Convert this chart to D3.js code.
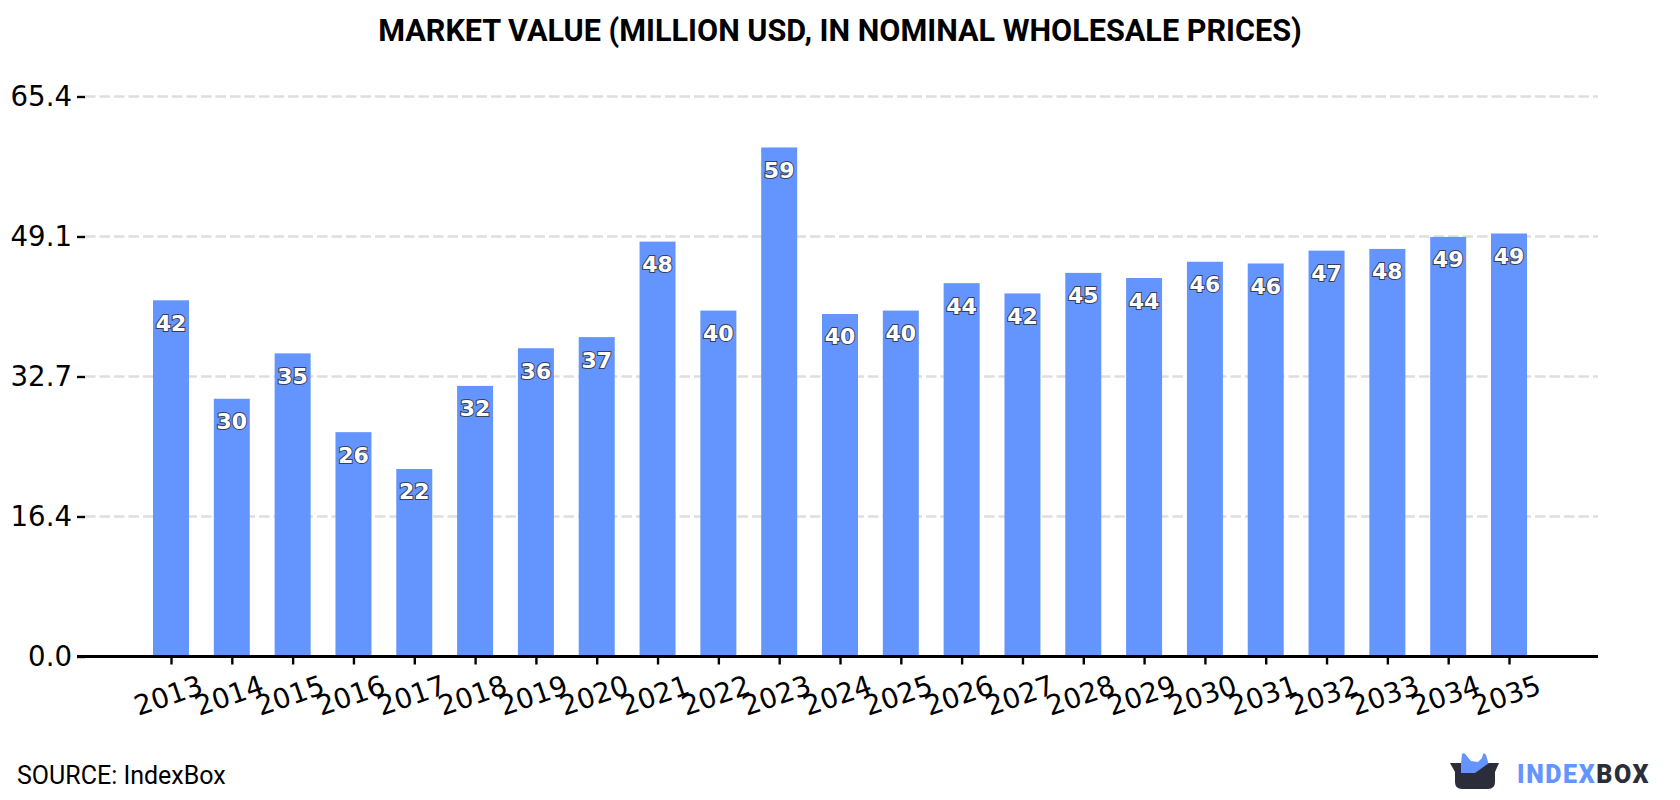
<!DOCTYPE html>
<html>
<head>
<meta charset="utf-8">
<script src="https://cdnjs.cloudflare.com/ajax/libs/d3/7.8.5/d3.min.js"></script>
<style>
html,body{margin:0;padding:0;background:#fff;}
svg{display:block;}
</style>
</head>
<body>
<svg id="chart" width="1680" height="800"></svg>
<script>
const years = ["2013","2014","2015","2016","2017","2018","2019","2020","2021","2022","2023","2024","2025","2026","2027","2028","2029","2030","2031","2032","2033","2034","2035"];
const marketValue = [41.6,30.1,35.4,26.2,21.9,31.6,36.0,37.3,48.45,40.4,59.45,40.0,40.4,43.6,42.4,44.8,44.2,46.1,45.9,47.4,47.6,49.0,49.4];
const yTicks = [0,16.35,32.7,49.05,65.4];
const yTickLabels = ["0.0","16.4","32.7","49.1","65.4"];
const titleText = "MARKET VALUE (MILLION USD, IN NOMINAL WHOLESALE PRICES)";
const sourceText = "SOURCE: IndexBox";

const svg = d3.select("#chart");
const axisLeft = 85, axisRight = 1598, axisBase = 656.5, axisTop = 96.5;
const firstCenter = 171, lastCenter = 1509;

const y = d3.scaleLinear().domain([0,65.4]).range([axisBase,axisTop]);
const x = d3.scalePoint().domain(years).range([firstCenter,lastCenter]);
const barWidth = 36;

svg.append("text").attr("x",840).attr("y",41).attr("text-anchor","middle")
  .attr("font-family","Roboto").attr("font-weight",700).attr("font-size",30.6)
  .attr("fill","#000").text(titleText);

// Horizontal dashed grid lines above the baseline
svg.append("g").selectAll("line").data(yTicks.slice(1)).join("line")
  .attr("x1",axisLeft).attr("x2",axisRight)
  .attr("y1",d=>y(d)).attr("y2",d=>y(d))
  .attr("stroke","#dedede").attr("stroke-width",2.4).attr("stroke-dasharray","10.5,4");

// Bars
svg.append("g").selectAll("rect").data(marketValue).join("rect")
  .attr("x",(d,i)=>x(years[i])-barWidth/2)
  .attr("width",barWidth)
  .attr("y",d=>y(d))
  .attr("height",d=>axisBase-y(d))
  .attr("fill","#6495ff");

// Y axis: only tick marks and labels, the domain is hidden
const gy = svg.append("g").attr("transform",`translate(${axisLeft},0)`)
  .call(d3.axisLeft(y).tickValues(yTicks).tickSize(8).tickPadding(5)
    .tickFormat((d,i)=>yTickLabels[i]));
gy.select(".domain").remove();
gy.selectAll("line").attr("stroke","#000").attr("stroke-width",2.4);
gy.selectAll("text").attr("font-family","'DejaVu Sans'").attr("font-size",27.6).attr("fill","#000");

// X axis with slanted year labels
const gx = svg.append("g").attr("transform",`translate(0,${axisBase})`)
  .call(d3.axisBottom(x).tickSize(8).tickSizeOuter(0));
gx.select(".domain").attr("d",`M77,0H${axisRight}`).attr("stroke","#000").attr("stroke-width",3);
gx.selectAll("line").attr("stroke","#000").attr("stroke-width",2.4);
gx.selectAll("text")
  .attr("font-family","'DejaVu Sans'").attr("font-size",27.6).attr("fill","#000")
  .attr("text-anchor","middle").attr("y",0).attr("dy",0)
  .attr("transform","translate(0,48) rotate(-19)");

// Value labels inside the top of each bar
svg.append("g").selectAll("text").data(marketValue).join("text")
  .attr("x",(d,i)=>x(years[i]))
  .attr("y",d=>y(d)+30.5)
  .attr("text-anchor","middle")
  .attr("font-family","'DejaVu Sans'").attr("font-weight",700).attr("font-size",22)
  .attr("fill","#fff").attr("stroke","#3a3f55").attr("stroke-width",2).attr("paint-order","stroke")
  .text(d=>d3.format(".0f")(d));

svg.append("text").attr("x",17).attr("y",784)
  .attr("font-family","Roboto").attr("font-size",25).attr("fill","#000").text(sourceText);

// IndexBox logo
const logo = svg.append("g");
logo.append("path").attr("fill","#6495ff")
  .attr("d","M1461,763L1462,754Q1464,752 1466,755L1471,761L1478,762L1482,758L1483,754Q1484,752 1486,755L1489,765L1475,775L1461,775Z");
logo.append("path").attr("fill","#2b2d3a")
  .attr("d","M1450,763H1499L1495,772V782Q1495,789 1488,789H1462Q1455,789 1455,782V772ZM1461,763V773H1475L1489,763Z")
  .attr("fill-rule","evenodd");
const word = logo.append("text").attr("x",1517).attr("y",783)
  .attr("font-family","Roboto").attr("font-weight",900).attr("font-size",25).attr("letter-spacing",1.6);
word.append("tspan").attr("fill","#6495ff").text("INDEX");
word.append("tspan").attr("fill","#2b2d3a").text("BOX");
</script>
</body>
</html>
